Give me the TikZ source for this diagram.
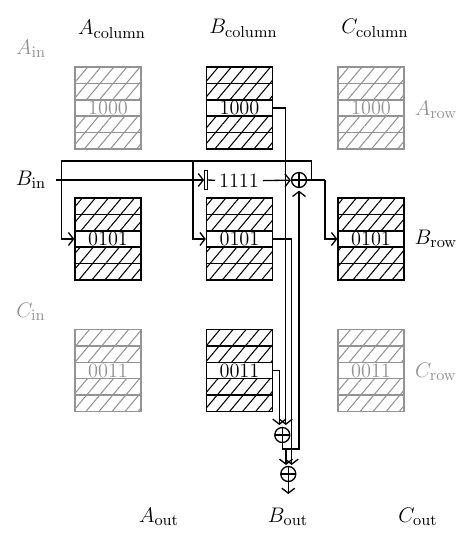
\documentclass[tikz,border=0pt]{standalone}
\usepackage{xcolor}
\usepackage{amsmath}
\usepackage{tikz}
\usetikzlibrary{positioning, arrows.meta, patterns.meta, calc}

\begin{document}
\begin{tikzpicture}[
  font=\fontsize{12.4}{14}\selectfont,
  bitcell/.style={draw, minimum width=1.32cm, minimum height=0.328cm,
    inner sep=0pt, line width=0.8pt, font=\fontsize{11.6}{13}\selectfont},
  hatchcell/.style={bitcell, pattern={Lines[angle=50, distance=0.2cm, line width=0.6pt]}},
  xorsym/.style={circle, draw, minimum size=0.3cm, inner sep=0pt, line width=0.75pt,
    path picture={
      \draw (path picture bounding box.north) -- (path picture bounding box.south);
      \draw (path picture bounding box.west) -- (path picture bounding box.east);
    }},
  wire/.style={line width=0.75pt},
  arrow/.style={wire, -{Straight Barb[length=0.1cm, width=0.26cm, line width=0.75pt]}},
  faded/.style={text=gray!85},
]
  \useasboundingbox (0,0) rectangle (9.48,10.9);

  % Column and row labels
  \node (acol) at (2.24, 10.32) {$A_{\mathrm{column}}$};
  \node (bcol) at (4.87, 10.34) {$B_{\mathrm{column}}$};
  \node (ccol) at (7.50, 10.34) {$C_{\mathrm{column}}$};
  \node[faded] (ain) at (0.62, 9.92) {$A_{\mathrm{in}}$};
  \node (bin) at (0.62, 7.30) {$B_{\mathrm{in}}$};
  \node[faded] (cin) at (0.62, 4.66) {$C_{\mathrm{in}}$};
  \node[faded] (arow) at (8.72, 8.70) {$A_{\mathrm{row}}$};
  \node (brow) at (8.72, 6.12) {$B_{\mathrm{row}}$};
  \node[faded] (crow) at (8.72, 3.46) {$C_{\mathrm{row}}$};
  \node (aout) at (3.18, 0.56) {$A_{\mathrm{out}}$};
  \node (bout) at (5.76, 0.56) {$B_{\mathrm{out}}$};
  \node (cout) at (8.36, 0.56) {$C_{\mathrm{out}}$};

  % Blocks of five cells
  \foreach \n/\x/\y/\bits/\ink in {
      aa/2.16/8.74/1000/gray!85, ba/4.79/8.74/1000/black, ca/7.42/8.74/1000/gray!85,
      ab/2.16/6.12/0101/black,   bb/4.79/6.12/0101/black, cb/7.42/6.12/0101/black,
      ac/2.16/3.49/0011/gray!85, bc/4.79/3.49/0011/black, cc/7.42/3.49/0011/gray!85} {
    \foreach \k in {-0.656, -0.328, 0.328, 0.656} {
      \node[hatchcell, draw=\ink, pattern color=\ink] at (\x, \y+\k) {};
    }
    \node[bitcell, draw=\ink, text=\ink] (cell\n) at (\x, \y) {\bits};
  }

  % Key register and xor gates
  \node[draw, line width=0.75pt, minimum width=0.05cm, minimum height=0.38cm, inner sep=0pt]
    (tick) at (4.12, 7.30) {};
  \node[inner xsep=0.07cm, inner ysep=0pt, font=\fontsize{11.6}{13}\selectfont] (key) at (4.78, 7.28) {1111};
  \node[xorsym] (xortop) at (5.98, 7.30) {};
  \node[xorsym] (xorone) at (5.646, 2.20) {};
  \node[xorsym] (xortwo) at (5.766, 1.42) {};

  % Helper points
  \coordinate (ringr) at (6.234, 7.30);
  \coordinate (ringl) at (1.234, 7.68);
  \coordinate (ringm) at (3.86, 7.68);
  \coordinate (outc) at (6.50, 7.30);
  \coordinate (inonea) at (5.586, 2.40);
  \coordinate (inoneb) at (5.716, 2.40);
  \coordinate (intwoa) at (5.72, 1.60);
  \coordinate (intwob) at (5.834, 1.60);
  \coordinate (fork) at (5.646, 1.92);
  \coordinate (forkm) at (5.72, 1.92);
  \coordinate (xorout) at (5.766, 1.02);

  % Wires
  \draw[arrow, shorten <=0.08cm] (bin) -- (tick);
  \draw[wire] (tick) -- (key);
  \draw[arrow] (key) -- (xortop);
  \draw[wire] (xortop) -- (outc);
  \draw[arrow] (outc) |- (cellcb);
  \draw[arrow] (ringr) |- (ringl) |- (cellab);
  \draw[arrow] (ringm) |- (cellbb);

  \draw[arrow] (cellba) -| (inoneb);
  \draw[arrow] (cellbc) -| (inonea);
  \draw[arrow] (cellbb) -| (intwob);
  \draw[wire] (xorone) -- (fork);
  \draw[arrow, shorten >=0.05cm] (fork) -| (xortop);
  \draw[arrow] (forkm) -- (intwoa);
  \draw[arrow] (xortwo) -- (xorout);
\end{tikzpicture}
\end{document}
